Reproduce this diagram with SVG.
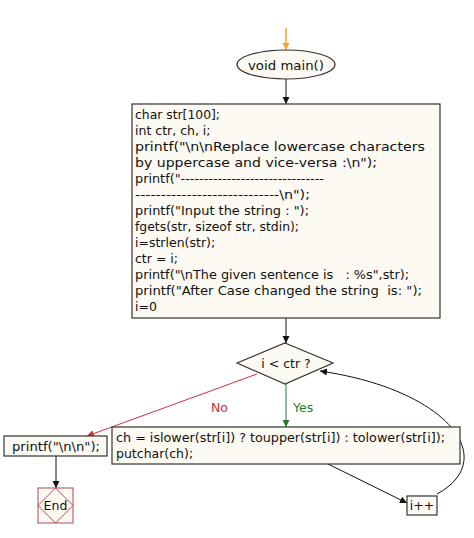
<svg xmlns="http://www.w3.org/2000/svg" width="474" height="538" viewBox="0 0 474 538">
<defs>
<style>
.box{fill:#fdfaf4;stroke:#333;stroke-width:1.2}
.t{font-family:"DejaVu Sans","Liberation Sans",sans-serif;font-size:12.5px;fill:#111}
.ln{fill:none;stroke:#111;stroke-width:1}
</style>
<marker id="ab" viewBox="0 0 10 10" refX="10" refY="5" markerWidth="7" markerHeight="10" markerUnits="userSpaceOnUse" orient="auto"><path d="M0,0 L10,5 L0,10 z" fill="#111"/></marker>
<marker id="ao" viewBox="0 0 10 10" refX="10" refY="5" markerWidth="7" markerHeight="10" markerUnits="userSpaceOnUse" orient="auto"><path d="M0,0 L10,5 L0,10 z" fill="#f5a623"/></marker>
<marker id="ar" viewBox="0 0 10 10" refX="10" refY="5" markerWidth="7" markerHeight="10" markerUnits="userSpaceOnUse" orient="auto"><path d="M0,0 L10,5 L0,10 z" fill="#d0303a"/></marker>
<marker id="ag" viewBox="0 0 10 10" refX="10" refY="5" markerWidth="7" markerHeight="10" markerUnits="userSpaceOnUse" orient="auto"><path d="M0,0 L10,5 L0,10 z" fill="#2a7a2a"/></marker>
</defs>
<rect width="474" height="538" fill="#ffffff"/>
<g id="connectors">
<line x1="286" y1="28" x2="286" y2="50" stroke="#f5a623" stroke-width="1.5" marker-end="url(#ao)"/>
<line class="ln" x1="286" y1="79" x2="286" y2="104" marker-end="url(#ab)"/>
<line class="ln" x1="286" y1="318" x2="286" y2="343" marker-end="url(#ab)"/>
<line x1="257" y1="374" x2="87" y2="436" stroke="#d0303a" stroke-width="1" marker-end="url(#ar)"/>
<line x1="286" y1="384" x2="286" y2="427" stroke="#2a7a2a" stroke-width="1" marker-end="url(#ag)"/>
<line class="ln" x1="56" y1="456" x2="56" y2="488" marker-end="url(#ab)"/>
<line class="ln" x1="328" y1="464" x2="407" y2="503" marker-end="url(#ab)"/>
<path class="ln" d="M437,494 C500,460 450,390 320,371" marker-end="url(#ab)"/>
<text class="t" x="211" y="412" style="fill:#c83040">No</text>
<text class="t" x="293" y="412" style="fill:#2a7a2a">Yes</text>
</g>
<g id="start">
<ellipse cx="286" cy="64.5" rx="49" ry="14.5" class="box"/>
<text class="t" x="286" y="69.5" text-anchor="middle" textLength="76" lengthAdjust="spacingAndGlyphs">void main()</text>
</g>
<g id="init">
<rect x="132" y="104" width="308" height="214" class="box"/>
<text class="t" x="135" y="119" textLength="85" lengthAdjust="spacingAndGlyphs">char str[100];</text>
<text class="t" x="135" y="135">int ctr, ch, i;</text>
<text class="t" x="135" y="151" textLength="290" lengthAdjust="spacingAndGlyphs">printf("\n\nReplace lowercase characters</text>
<text class="t" x="135" y="167" textLength="242" lengthAdjust="spacingAndGlyphs">by uppercase and vice-versa :\n");</text>
<text class="t" x="135" y="183" textLength="189" lengthAdjust="spacingAndGlyphs">printf("-------------------------------</text>
<text class="t" x="135" y="199" textLength="175" lengthAdjust="spacingAndGlyphs">----------------------------\n");</text>
<text class="t" x="135" y="215" textLength="174" lengthAdjust="spacingAndGlyphs">printf("Input the string : ");</text>
<text class="t" x="135" y="231" textLength="164" lengthAdjust="spacingAndGlyphs">fgets(str, sizeof str, stdin);</text>
<text class="t" x="135" y="247">i=strlen(str);</text>
<text class="t" x="135" y="263">ctr = i;</text>
<text class="t" x="135" y="279" textLength="274" lengthAdjust="spacingAndGlyphs" xml:space="preserve">printf("\nThe given sentence is   : %s",str);</text>
<text class="t" x="135" y="295" textLength="287" lengthAdjust="spacingAndGlyphs" xml:space="preserve">printf("After Case changed the string  is: ");</text>
<text class="t" x="135" y="311">i=0</text>
</g>
<g id="cond">
<polygon points="285,343 333,363 285,384 237,363" class="box"/>
<text class="t" x="286" y="368" text-anchor="middle">i &lt; ctr ?</text>
</g>
<g id="body">
<rect x="112" y="427" width="348" height="37" class="box"/>
<text class="t" x="116" y="442" textLength="329" lengthAdjust="spacingAndGlyphs">ch = islower(str[i]) ? toupper(str[i]) : tolower(str[i]);</text>
<text class="t" x="116" y="458">putchar(ch);</text>
</g>
<g id="print">
<rect x="4" y="436" width="103" height="20" class="box"/>
<text class="t" x="12" y="451" textLength="88" lengthAdjust="spacingAndGlyphs">printf("\n\n");</text>
</g>
<g id="inc">
<rect x="407" y="496" width="30" height="19" class="box"/>
<text class="t" x="422" y="510" text-anchor="middle">i++</text>
</g>
<g id="end">
<rect x="38" y="488" width="35" height="35" fill="#fdfaf4" stroke="#b04858" stroke-width="1"/>
<polygon points="55.5,488 73,505.5 55.5,523 38,505.5" fill="none" stroke="#b04858" stroke-width="1"/>
<text class="t" x="55.5" y="510" text-anchor="middle">End</text>
</g>
</svg>
